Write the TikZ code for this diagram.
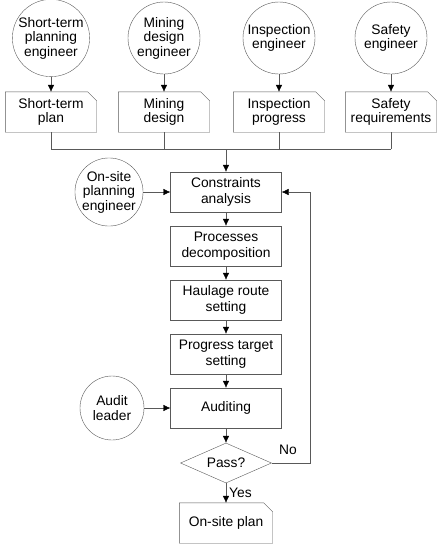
\documentclass[tikz,border=0pt]{standalone}
\usepackage{fontspec}
\setmainfont{Liberation Sans}
\usetikzlibrary{arrows.meta,shapes.geometric}

% folded-corner outline for document nodes
\newcommand{\docoutline}[1]{%
  \draw[black!65] (#1.north west) -- ([xshift=-9pt]#1.north east) -- ([yshift=-9pt]#1.north east)
    -- (#1.south east) -- (#1.south west) -- cycle;}

\begin{document}
\begin{tikzpicture}[x=1pt,y=-1pt,font=\fontsize{13.8}{14.5}\selectfont]
  \tikzstyle{actor}=[circle,draw=black!65,minimum size=72pt,inner sep=0pt,align=center]
  \tikzstyle{doc}=[minimum width=91pt,minimum height=40pt,inner sep=0pt,align=center]
  \tikzstyle{task}=[draw=black!65,minimum width=111pt,minimum height=40pt,inner sep=0pt,align=center,
                    font=\fontsize{13.8}{16}\selectfont]
  \tikzstyle{myarrow}=[-{Latex[length=7pt,width=6.5pt,color=black]},draw=black!65]

  \useasboundingbox (0,0) rectangle (444,550);

  \foreach \name/\x/\who/\what in {1/51/{Short-term\\planning\\engineer}/{Short-term\\plan},
                                   2/164/{Mining\\design\\engineer}/{Mining\\design},
                                   3/279/{Inspection\\engineer}/{Inspection\\progress},
                                   4/391/{Safety\\engineer}/{Safety\\requirements}}
  {
    \node[actor] (E-\name) at (\x,38) {\who};
    \node[doc] (D-\name) at (\x,112) {\what};
    \docoutline{D-\name}
    \draw[myarrow] (E-\name) -- (D-\name);
  }

  \coordinate (bus) at (226,149);
  \foreach \i in {1,...,4}
    { \draw[black!65] (D-\i.south) -- (D-\i.south |- bus); }
  \draw[black!65] (D-1.south |- bus) -- (D-4.south |- bus);

  \foreach \name/\y/\text in {CA/192/{Constraints\\analysis}, PD/246/{Processes\\decomposition},
                              HR/300/{Haulage route\\setting}, PT/354/{Progress target\\setting},
                              AU/408/{Auditing}}
    \node[task] (\name) at (226,\y) {\text};

  \node[diamond,draw=black!65,minimum width=91pt,minimum height=40pt,inner sep=0pt,aspect=2.3]
    (pass) at (226,463) {Pass?};
  \node[doc,minimum width=93pt] (plan) at (226,523) {On-site plan};
  \docoutline{plan}

  \node[actor,minimum size=68pt] (onsite) at (109,192) {On-site\\planning\\engineer};
  \node[actor,minimum size=64pt] (audit) at (112,408) {Audit\\leader};

  \draw[myarrow] (bus) -- (CA);
  \foreach \from/\to in {CA/PD,PD/HR,HR/PT,PT/AU,AU/pass}
    { \draw[myarrow] (\from) -- (\to); }
  \draw[myarrow] (onsite) -- (CA);
  \draw[myarrow] (audit) -- (AU);
  \draw[myarrow] (pass) -- node[right,inner sep=3pt] {Yes} (plan);
  \coordinate (loop) at (310,463);
  \draw[myarrow] (pass.east) -- (loop) |- (CA.east);
  \node[anchor=south west,inner sep=0pt] (no) at (279,455) {No};
\end{tikzpicture}
\end{document}
